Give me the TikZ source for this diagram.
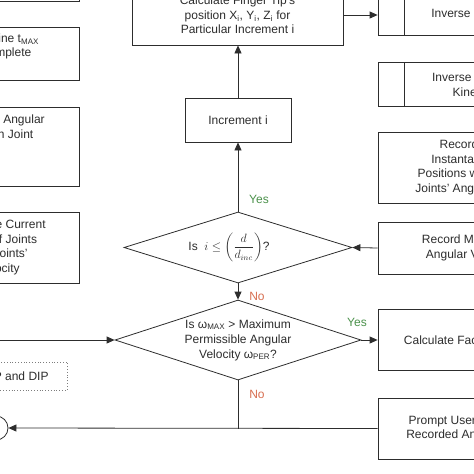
\documentclass[tikz,border=0pt]{standalone}
\usepackage{fontspec}
\setmainfont{Liberation Sans}
\usepackage{amsmath}
\usetikzlibrary{shapes.geometric, arrows.meta, positioning, calc}
\definecolor{mydark}{RGB}{45,45,45}
\definecolor{mygray}{RGB}{125,125,125}
\definecolor{mygreen}{RGB}{75,145,75}
\definecolor{myorange}{RGB}{215,110,80}
\tikzset{
  block/.style={rectangle, draw=mydark, fill=white, text=mydark,
    align=center, font=\fontsize{12}{14.5}\selectfont, line width=0.8pt},
  subblock/.style={block, path picture={
    \draw[line] ([xshift=26pt]path picture bounding box.north west) -- ([xshift=26pt]path picture bounding box.south west);
    \draw[line] ([xshift=-26pt]path picture bounding box.north east) -- ([xshift=-26pt]path picture bounding box.south east);}},
  decision/.style={diamond, draw=mydark, fill=white, inner sep=0pt, line width=0.8pt},
  btext/.style={text=mydark, align=center, font=\fontsize{12}{14.5}\selectfont},
  dtext/.style={text=mydark, align=center, font=\fontsize{12}{15}\selectfont},
  yeslbl/.style={text=mygreen, font=\fontsize{12}{14}\selectfont},
  nolbl/.style={text=myorange, font=\fontsize{12}{14}\selectfont},
  arrow/.style={-{Triangle[length=8pt, width=7pt]}, line width=0.8pt, color=mydark},
  line/.style={line width=0.8pt, color=mydark}
}

\begin{document}
\begin{tikzpicture}[x=1pt, y=-1pt]
  \useasboundingbox (0,0) rectangle (474,474);
  \clip (0,0) rectangle (474,474);

  % Left column
  \node[block, minimum width=160pt, minimum height=50pt] (prev) at (-1,-24) {};
  \node[block, minimum width=160pt, minimum height=53pt,
    label={[btext, yshift=7pt]center:{Determine t\textsubscript{MAX}\\to Complete}}] (tmax) at (-1,53.5) {};
  \node[block, minimum width=160pt, minimum height=79pt,
    label={[btext, yshift=20pt]center:{Set Joint Angular\\in Each Joint}}] (limit) at (-1,146.5) {};
  \node[block, minimum width=160pt, minimum height=71pt] (cur) at (-1,247.5) {Calculate Current\\State of Joints\\and Joints'\\Velocity};
  \node[block, dotted, draw=mygray, minimum width=103pt, minimum height=28pt] (joints) at (15.5,376) {PIP and DIP};
  \node[circle, draw=mydark, line width=0.8pt, minimum size=24pt] (conn) at (-4,428) {};
  \coordinate (feed) at (-20,340);

  % Centre column
  \node[block, minimum width=211pt, minimum height=60pt] (tip) at (237.5,15) {Calculate Finger Tip's\\position X\textsubscript{i}, Y\textsubscript{i}, Z\textsubscript{i} for\\Particular Increment i};
  \node[block, minimum width=106pt, minimum height=44pt] (inc) at (238,120) {Increment i};
  \node[decision, minimum width=228pt, minimum height=71pt,
    label={[dtext, xshift=-9pt]center:{Is\ \ $i \le \left(\dfrac{d}{d_{inc}}\right)$?}}] (chk) at (238,247.5) {};
  \node[decision, minimum width=246pt, minimum height=80pt,
    label={[dtext]center:{Is ω\textsubscript{MAX} > Maximum\\Permissible Angular\\Velocity ω\textsubscript{PER}?}}] (vel) at (238,340) {};

  % Right column
  \node[subblock, minimum width=208pt, minimum height=44pt] (invk) at (482,13) {Inverse Kinematics};
  \node[subblock, minimum width=208pt, minimum height=44pt] (invd) at (482,84.5) {Inverse Differential\\Kinematics};
  \node[block, minimum width=182pt, minimum height=71pt] (rec) at (469,167.5) {Record the\\Instantaneous\\Positions with each\\Joints' Angle Values};
  \node[block, minimum width=182pt, minimum height=52pt] (recmax) at (469,248) {Record Maximum\\Angular Velocity};
  \node[block, minimum width=182pt, minimum height=61pt] (fact) at (469,340) {Calculate Factor to Slow};
  \node[block, minimum width=182pt, minimum height=61pt] (prompt) at (469,428.5) {Prompt User to Accept\\Recorded Angular Data};

  % Connections
  \draw[arrow] (inc.north) -- (inc.north |- tip.south);
  \draw[arrow] (tip.east) -- (tip.east -| invk.west);
  \draw[arrow] (chk.north) -- (inc.south);
  \draw[arrow] (recmax.west) -- (chk.east);
  \draw[arrow] (chk.south) -- (vel.north);
  \draw[arrow] (feed) -- (vel.west);
  \draw[arrow] (vel.east) -- (fact.west);
  \draw[line] (vel.south) -- (vel.south |- prompt.west);
  \draw[arrow] (prompt.west) -- (conn.east);

  % Branch labels
  \node[yeslbl] (yes1) at (259,199) {Yes};
  \node[nolbl] (no1) at (257,296) {No};
  \node[yeslbl] (yes2) at (357,322) {Yes};
  \node[nolbl] (no2) at (257,394) {No};
\end{tikzpicture}
\end{document}
